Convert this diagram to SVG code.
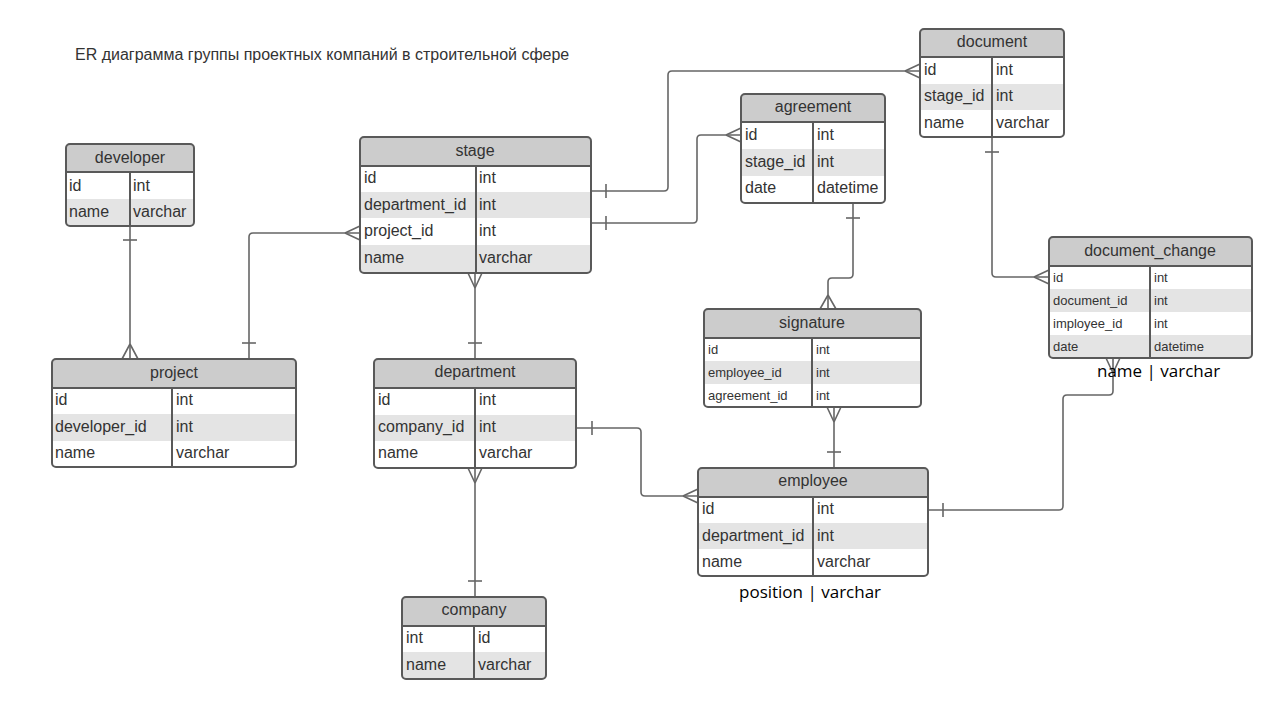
<svg xmlns="http://www.w3.org/2000/svg" width="1280" height="708" viewBox="0 0 1280 708">
<style>
.bg{fill:#fff}
.hd{fill:#ccc}
.g{fill:#e4e4e4}
.box{fill:none;stroke:#595959;stroke-width:2}
.dv{stroke:#595959;stroke-width:2}
.t{font-family:"Liberation Sans",Arial,sans-serif;font-size:16px;fill:#333}
.s{font-family:"Liberation Sans",Arial,sans-serif;font-size:13px;fill:#333}
.h{font-family:"Liberation Sans",Arial,sans-serif;font-size:16px;fill:#333;text-anchor:middle}
.ttl{font-family:"Liberation Sans",Arial,sans-serif;font-size:16px;fill:#333}
.ann{font-family:"Open Sans","Noto Sans",sans-serif;font-size:17px;fill:#000}
.cn{fill:none;stroke:#666;stroke-width:1.6}
</style>
<defs>
<clipPath id="c-dev"><rect x="66" y="144" width="128" height="82" rx="5"/></clipPath>
<clipPath id="c-proj"><rect x="52" y="359" width="244" height="108" rx="5"/></clipPath>
<clipPath id="c-stage"><rect x="360" y="137" width="231" height="136" rx="5"/></clipPath>
<clipPath id="c-doc"><rect x="920" y="29" width="144" height="108" rx="5"/></clipPath>
<clipPath id="c-agr"><rect x="741" y="94" width="144" height="109" rx="5"/></clipPath>
<clipPath id="c-dc"><rect x="1049" y="237" width="203" height="121" rx="5"/></clipPath>
<clipPath id="c-sig"><rect x="704" y="309" width="217" height="98" rx="5"/></clipPath>
<clipPath id="c-emp"><rect x="698" y="468" width="230" height="108" rx="5"/></clipPath>
<clipPath id="c-dep"><rect x="374" y="359" width="202" height="109" rx="5"/></clipPath>
<clipPath id="c-comp"><rect x="402" y="597" width="144" height="82" rx="5"/></clipPath>
</defs>
<rect width="1280" height="708" fill="#fff"/>
<text class="ttl" x="75" y="60">ER диаграмма группы проектных компаний в строительной сфере</text>

<g id="connectors">
<!-- developer - project -->
<path class="cn" d="M130 226 V359"/>
<path class="cn" d="M123 240 H137"/>
<path class="cn" d="M130 344 L122 359 M130 344 L138 359"/>
<!-- stage - project -->
<path class="cn" d="M360 233 H253 Q249 233 249 237 V359"/>
<path class="cn" d="M345 233 L360 226 M345 233 L360 240"/>
<path class="cn" d="M242 343 H256"/>
<!-- stage - department -->
<path class="cn" d="M475 273 V359"/>
<path class="cn" d="M475 288 L468 273 M475 288 L482 273"/>
<path class="cn" d="M468 343 H482"/>
<!-- department - company -->
<path class="cn" d="M475 468 V597"/>
<path class="cn" d="M475 483 L468 468 M475 483 L482 468"/>
<path class="cn" d="M468 581 H482"/>
<!-- department - employee -->
<path class="cn" d="M576 428 H637 Q641 428 641 432 V492 Q641 496 645 496 H698"/>
<path class="cn" d="M592 421 V435"/>
<path class="cn" d="M683 496 L698 489 M683 496 L698 503"/>
<!-- stage - document -->
<path class="cn" d="M591 191 H664 Q668 191 668 187 V75 Q668 71 672 71 H920"/>
<path class="cn" d="M606 184 V198"/>
<path class="cn" d="M905 71 L920 64 M905 71 L920 78"/>
<!-- stage - agreement -->
<path class="cn" d="M591 223 H693 Q697 223 697 219 V139 Q697 135 701 135 H741"/>
<path class="cn" d="M606 216 V230"/>
<path class="cn" d="M726 135 L741 128 M726 135 L741 142"/>
<!-- agreement - signature -->
<path class="cn" d="M853 203 V274 Q853 278 849 278 H832 Q828 278 828 282 V309"/>
<path class="cn" d="M846 218 H860"/>
<path class="cn" d="M828 295 L820 309 M828 295 L836 309"/>
<!-- signature - employee -->
<path class="cn" d="M834 407 V468"/>
<path class="cn" d="M834 422 L827 407 M834 422 L841 407"/>
<path class="cn" d="M827 452 H841"/>
<!-- document - document_change -->
<path class="cn" d="M992 137 V273 Q992 277 996 277 H1049"/>
<path class="cn" d="M985 152 H999"/>
<path class="cn" d="M1034 277 L1049 270 M1034 277 L1049 284"/>
<!-- employee - document_change -->
<path class="cn" d="M928 510 H1059 Q1063 510 1063 506 V399 Q1063 395 1067 395 H1109 Q1113 395 1113 391 V358"/>
<path class="cn" d="M943 503 V517"/>
<path class="cn" d="M1113 373 L1106 358 M1113 373 L1120 358"/>
</g>

<g id="developer">
<g clip-path="url(#c-dev)">
<rect class="bg" x="66" y="144" width="128" height="82"/>
<rect class="hd" x="66" y="144" width="128" height="28"/>
<rect class="g" x="66" y="199" width="128" height="27"/>
</g>
<line class="dv" x1="66" y1="172" x2="194" y2="172"/>
<line class="dv" x1="130" y1="172" x2="130" y2="226"/>
<rect class="box" x="66" y="144" width="128" height="82" rx="4"/>
<text class="h" x="130" y="163">developer</text>
<text class="t" x="69" y="191">id</text><text class="t" x="133" y="191">int</text>
<text class="t" x="69" y="217">name</text><text class="t" x="133" y="217">varchar</text>
</g>

<g id="project">
<g clip-path="url(#c-proj)">
<rect class="bg" x="52" y="359" width="244" height="108"/>
<rect class="hd" x="52" y="359" width="244" height="29"/>
<rect class="g" x="52" y="414" width="244" height="27"/>
</g>
<line class="dv" x1="52" y1="388" x2="296" y2="388"/>
<line class="dv" x1="172" y1="388" x2="172" y2="467"/>
<rect class="box" x="52" y="359" width="244" height="108" rx="4"/>
<text class="h" x="174" y="378">project</text>
<text class="t" x="55" y="405">id</text><text class="t" x="176" y="405">int</text>
<text class="t" x="55" y="432">developer_id</text><text class="t" x="176" y="432">int</text>
<text class="t" x="55" y="458">name</text><text class="t" x="176" y="458">varchar</text>
</g>

<g id="stage">
<g clip-path="url(#c-stage)">
<rect class="bg" x="360" y="137" width="231" height="136"/>
<rect class="hd" x="360" y="137" width="231" height="29"/>
<rect class="g" x="360" y="192" width="231" height="26"/>
<rect class="g" x="360" y="245" width="231" height="28"/>
</g>
<line class="dv" x1="360" y1="166" x2="591" y2="166"/>
<line class="dv" x1="476" y1="166" x2="476" y2="273"/>
<rect class="box" x="360" y="137" width="231" height="136" rx="4"/>
<text class="h" x="475" y="156">stage</text>
<text class="t" x="364" y="183">id</text><text class="t" x="479" y="183">int</text>
<text class="t" x="364" y="210">department_id</text><text class="t" x="479" y="210">int</text>
<text class="t" x="364" y="236">project_id</text><text class="t" x="479" y="236">int</text>
<text class="t" x="364" y="263">name</text><text class="t" x="479" y="263">varchar</text>
</g>

<g id="document">
<g clip-path="url(#c-doc)">
<rect class="bg" x="920" y="29" width="144" height="108"/>
<rect class="hd" x="920" y="29" width="144" height="28"/>
<rect class="g" x="920" y="84" width="144" height="26"/>
</g>
<line class="dv" x1="920" y1="57" x2="1064" y2="57"/>
<line class="dv" x1="992" y1="57" x2="992" y2="137"/>
<rect class="box" x="920" y="29" width="144" height="108" rx="4"/>
<text class="h" x="992" y="47">document</text>
<text class="t" x="924" y="75">id</text><text class="t" x="996" y="75">int</text>
<text class="t" x="924" y="101">stage_id</text><text class="t" x="996" y="101">int</text>
<text class="t" x="924" y="128">name</text><text class="t" x="996" y="128">varchar</text>
</g>

<g id="agreement">
<g clip-path="url(#c-agr)">
<rect class="bg" x="741" y="94" width="144" height="109"/>
<rect class="hd" x="741" y="94" width="144" height="28"/>
<rect class="g" x="741" y="149" width="144" height="27"/>
</g>
<line class="dv" x1="741" y1="122" x2="885" y2="122"/>
<line class="dv" x1="813" y1="122" x2="813" y2="203"/>
<rect class="box" x="741" y="94" width="144" height="109" rx="4"/>
<text class="h" x="813" y="112">agreement</text>
<text class="t" x="745" y="140">id</text><text class="t" x="817" y="140">int</text>
<text class="t" x="745" y="167">stage_id</text><text class="t" x="817" y="167">int</text>
<text class="t" x="745" y="193">date</text><text class="t" x="817" y="193">datetime</text>
</g>

<g id="document_change">
<g clip-path="url(#c-dc)">
<rect class="bg" x="1049" y="237" width="203" height="121"/>
<rect class="hd" x="1049" y="237" width="203" height="29"/>
<rect class="g" x="1049" y="289" width="203" height="23"/>
<rect class="g" x="1049" y="335" width="203" height="23"/>
</g>
<line class="dv" x1="1049" y1="266" x2="1252" y2="266"/>
<line class="dv" x1="1150" y1="266" x2="1150" y2="358"/>
<rect class="box" x="1049" y="237" width="203" height="121" rx="4"/>
<text class="h" x="1150" y="256">document_change</text>
<text class="s" x="1053" y="282">id</text><text class="s" x="1154" y="282">int</text>
<text class="s" x="1053" y="305">document_id</text><text class="s" x="1154" y="305">int</text>
<text class="s" x="1053" y="328">imployee_id</text><text class="s" x="1154" y="328">int</text>
<text class="s" x="1053" y="351">date</text><text class="s" x="1154" y="351">datetime</text>
</g>

<g id="signature">
<g clip-path="url(#c-sig)">
<rect class="bg" x="704" y="309" width="217" height="98"/>
<rect class="hd" x="704" y="309" width="217" height="29"/>
<rect class="g" x="704" y="361" width="217" height="23"/>
</g>
<line class="dv" x1="704" y1="338" x2="921" y2="338"/>
<line class="dv" x1="812" y1="338" x2="812" y2="407"/>
<rect class="box" x="704" y="309" width="217" height="98" rx="4"/>
<text class="h" x="812" y="328">signature</text>
<text class="s" x="708" y="354">id</text><text class="s" x="816" y="354">int</text>
<text class="s" x="708" y="377">employee_id</text><text class="s" x="816" y="377">int</text>
<text class="s" x="708" y="400">agreement_id</text><text class="s" x="816" y="400">int</text>
</g>

<g id="employee">
<g clip-path="url(#c-emp)">
<rect class="bg" x="698" y="468" width="230" height="108"/>
<rect class="hd" x="698" y="468" width="230" height="29"/>
<rect class="g" x="698" y="523" width="230" height="26"/>
</g>
<line class="dv" x1="698" y1="497" x2="928" y2="497"/>
<line class="dv" x1="813" y1="497" x2="813" y2="576"/>
<rect class="box" x="698" y="468" width="230" height="108" rx="4"/>
<text class="h" x="813" y="486">employee</text>
<text class="t" x="702" y="514">id</text><text class="t" x="817" y="514">int</text>
<text class="t" x="702" y="541">department_id</text><text class="t" x="817" y="541">int</text>
<text class="t" x="702" y="567">name</text><text class="t" x="817" y="567">varchar</text>
</g>

<g id="department">
<g clip-path="url(#c-dep)">
<rect class="bg" x="374" y="359" width="202" height="109"/>
<rect class="hd" x="374" y="359" width="202" height="29"/>
<rect class="g" x="374" y="415" width="202" height="26"/>
</g>
<line class="dv" x1="374" y1="388" x2="576" y2="388"/>
<line class="dv" x1="475" y1="388" x2="475" y2="468"/>
<rect class="box" x="374" y="359" width="202" height="109" rx="4"/>
<text class="h" x="475" y="377">department</text>
<text class="t" x="378" y="405">id</text><text class="t" x="479" y="405">int</text>
<text class="t" x="378" y="432">company_id</text><text class="t" x="479" y="432">int</text>
<text class="t" x="378" y="458">name</text><text class="t" x="479" y="458">varchar</text>
</g>

<g id="company">
<g clip-path="url(#c-comp)">
<rect class="bg" x="402" y="597" width="144" height="82"/>
<rect class="hd" x="402" y="597" width="144" height="29"/>
<rect class="g" x="402" y="652" width="144" height="27"/>
</g>
<line class="dv" x1="402" y1="626" x2="546" y2="626"/>
<line class="dv" x1="474" y1="626" x2="474" y2="679"/>
<rect class="box" x="402" y="597" width="144" height="82" rx="4"/>
<text class="h" x="474" y="615">company</text>
<text class="t" x="406" y="643">int</text><text class="t" x="478" y="643">id</text>
<text class="t" x="406" y="670">name</text><text class="t" x="478" y="670">varchar</text>
</g>

<text class="ann" x="1097" y="377">name | varchar</text>
<text class="ann" x="739" y="598">position | varchar</text>
</svg>
